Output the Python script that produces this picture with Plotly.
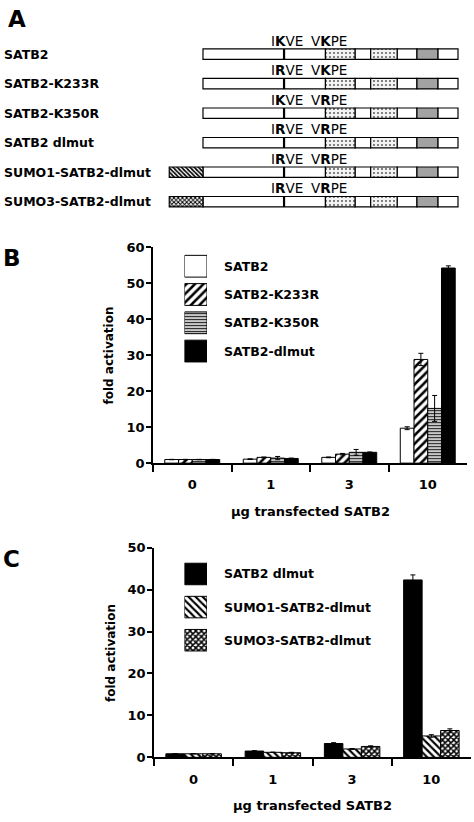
import plotly.graph_objects as go

# ---- panel A: constructs (positions in amino acids) ----
constructs = ['SATB2', 'SATB2-K233R', 'SATB2-K350R', 'SATB2 dlmut',
              'SUMO1-SATB2-dlmut', 'SUMO3-SATB2-dlmut']
motif1 = ['I<b>K</b>VE', 'I<b>R</b>VE', 'I<b>K</b>VE', 'I<b>R</b>VE', 'I<b>R</b>VE', 'I<b>R</b>VE']
motif2 = ['V<b>K</b>PE', 'V<b>K</b>PE', 'V<b>R</b>PE', 'V<b>R</b>PE', 'V<b>R</b>PE', 'V<b>R</b>PE']
sumo_tag = ['', '', '', '', 'SUMO1', 'SUMO3']
sumo_len = 97
satb2_len = 733
k_sites = [233, 350]
cut1 = [352, 437]
cut2 = [482, 558]
homeo = [615, 675]

# ---- panels B and C: fold activation ----
doses = ['0', '1', '3', '10']

b_names = ['SATB2', 'SATB2-K233R', 'SATB2-K350R', 'SATB2-dlmut']
b_satb2 = [1.0, 1.1, 1.6, 9.7]
b_k233r = [1.0, 1.6, 2.5, 28.8]
b_k350r = [1.0, 1.4, 3.0, 15.2]
b_dlmut = [1.0, 1.3, 3.0, 54.2]
b_satb2_err = [0.05, 0.1, 0.1, 0.4]
b_k233r_err = [0.05, 0.1, 0.2, 1.7]
b_k350r_err = [0.05, 0.45, 0.8, 3.6]
b_dlmut_err = [0.05, 0.1, 0.1, 0.6]

c_names = ['SATB2 dlmut', 'SUMO1-SATB2-dlmut', 'SUMO3-SATB2-dlmut']
c_dlmut = [0.85, 1.5, 3.3, 42.3]
c_sumo1 = [0.85, 1.2, 2.0, 5.1]
c_sumo3 = [0.85, 1.1, 2.6, 6.4]
c_dlmut_err = [0.05, 0.1, 0.2, 1.2]
c_sumo1_err = [0.05, 0.05, 0.1, 0.3]
c_sumo3_err = [0.05, 0.1, 0.15, 0.4]

FONT = 'DejaVu Sans'
W, H = 474, 822

# fill styles
def style(kind):
    line = dict(color='black', width=1)
    if kind == 'white':
        return dict(color='white', line=line)
    if kind == 'black':
        return dict(color='black', line=line)
    shapes = {'diag': ('/', 6, 0.42, 'black'), 'horiz': ('-', 3, 0.5, '#222222'),
              'back': ('\\', 5, 0.42, 'black'), 'check': ('x', 4, 0.62, 'black')}
    shp, size, sol, fg = shapes[kind]
    return dict(color='white', line=line,
                pattern=dict(shape=shp, size=size, solidity=sol, fgcolor=fg,
                             bgcolor='white', fillmode='replace'))

b_styles = ['white', 'diag', 'horiz', 'black']
c_styles = ['black', 'back', 'check']

fig = go.Figure()

# ---- panel A schematic as horizontal bars ----
h = 0.355
rows = list(range(len(constructs)))
bounds = [0, cut1[0], cut1[1], cut2[0], cut2[1], homeo[0], homeo[1], satb2_len]
edge = dict(color='black', width=1.2)


def seg(start, end, rr, marker):
    marker = dict(marker, line=edge)
    return go.Bar(orientation='h', y=rr, x=[end - start] * len(rr), base=[start] * len(rr),
                  width=h, offset=-h / 2, marker=marker, xaxis='x', yaxis='y',
                  hoverinfo='skip', showlegend=False)


for k in (0, 2, 4, 6):
    fig.add_trace(seg(bounds[k], bounds[k + 1], rows, dict(color='white')))
dots = dict(color='white', pattern=dict(shape='.', size=4, solidity=0.18, fgcolor='#555555',
                                        bgcolor='#f3f3f3', fillmode='replace'))
fig.add_trace(seg(cut1[0], cut1[1], rows, dots))
fig.add_trace(seg(cut2[0], cut2[1], rows, dots))
fig.add_trace(seg(homeo[0], homeo[1], rows, dict(color='#a2a2a2')))
for tag, shp in (('SUMO1', '\\'), ('SUMO3', 'x')):
    rr = [i for i in rows if sumo_tag[i] == tag]
    fig.add_trace(seg(-sumo_len, 0, rr, dict(color='white', pattern=dict(
        shape=shp, size=3, solidity=0.55, fgcolor='black', bgcolor='white', fillmode='replace'))))

shapes = []
annotations = []
for i in rows:
    shapes.append(dict(type='line', xref='x', yref='y', x0=k_sites[0], x1=k_sites[0],
                       y0=i - h / 2, y1=i + h / 2, line=dict(color='black', width=2.2)))
    annotations.append(dict(text='<b>' + constructs[i] + '</b>', xref='paper', yref='y',
                            x=2 / W, y=i, xanchor='left', yanchor='middle', showarrow=False,
                            font=dict(family=FONT, size=12.5, color='black')))
    annotations.append(dict(text=motif1[i], xref='x', yref='y', x=k_sites[0], y=i - 0.46,
                            xshift=3, showarrow=False, yanchor='middle',
                            font=dict(family=FONT, size=13.5, color='black')))
    annotations.append(dict(text=motif2[i], xref='x', yref='y', x=k_sites[1], y=i - 0.46,
                            xshift=4.5, showarrow=False, yanchor='middle',
                            font=dict(family=FONT, size=13.5, color='black')))

# ---- panel B bars ----
b_vals = [b_satb2, b_k233r, b_k350r, b_dlmut]
b_errs = [b_satb2_err, b_k233r_err, b_k350r_err, b_dlmut_err]
for name, vals, err, st in zip(b_names, b_vals, b_errs, b_styles):
    fig.add_trace(go.Bar(x=doses, y=vals, name=name, marker=style(st),
                         error_y=dict(type='data', array=err, color='black', thickness=1, width=2.5),
                         xaxis='x2', yaxis='y2', showlegend=False))

# ---- panel C bars ----
c_vals = [c_dlmut, c_sumo1, c_sumo3]
c_errs = [c_dlmut_err, c_sumo1_err, c_sumo3_err]
for name, vals, err, st in zip(c_names, c_vals, c_errs, c_styles):
    fig.add_trace(go.Bar(x=doses, y=vals, name=name, marker=style(st),
                         error_y=dict(type='data', array=err, color='black', thickness=1, width=2.5),
                         xaxis='x3', yaxis='y3', showlegend=False))

# ---- legends drawn as swatch bars ----
for names, styles, xa, ya, wd in ((b_names, b_styles, 'x4', 'y4', 0.77),
                                  (c_names, c_styles, 'x5', 'y5', 0.65)):
    for i, (name, st) in enumerate(zip(names, styles)):
        fig.add_trace(go.Bar(orientation='h', y=[i], x=[1], base=[0], width=wd, offset=-wd / 2,
                             marker=style(st), xaxis=xa, yaxis=ya, hoverinfo='skip',
                             showlegend=False))
        annotations.append(dict(text='<b>' + name + '</b>', xref='paper', yref=ya,
                                x=222 / W, y=i, xanchor='left', yanchor='middle',
                                showarrow=False, font=dict(family=FONT, size=12.5, color='black')))

# panel letters and axis titles
for letter, px, py in (('A', 6, 12), ('B', 1, 256), ('C', 1, 562)):
    annotations.append(dict(text='<b>' + letter + '</b>', xref='paper', yref='paper',
                            x=px / W, y=1 - py / H, xanchor='left', yanchor='middle',
                            showarrow=False, font=dict(family=FONT, size=23, color='black')))
for px, py in ((310, 514), (312, 813)):
    annotations.append(dict(text='<b>µg transfected SATB2</b>', xref='paper', yref='paper',
                            x=px / W, y=1 - py / H, xanchor='center', yanchor='middle',
                            showarrow=False, font=dict(family=FONT, size=13, color='black')))
for px, py in ((109, 355), (111, 658)):
    annotations.append(dict(text='<b>fold activation</b>', xref='paper', yref='paper',
                            x=px / W, y=1 - py / H, textangle=-90, xanchor='center',
                            yanchor='middle', showarrow=False,
                            font=dict(family=FONT, size=12, color='black')))

hidden = dict(visible=False, showgrid=False, zeroline=False, fixedrange=True)
tickfont = dict(family=FONT, size=13, color='black', weight='bold')
cat_axis = dict(type='category', categoryorder='array', categoryarray=doses, range=[-0.5, 3.5],
                showline=True, linecolor='black', linewidth=1.5, ticks='outside', ticklen=7,
                tickwidth=1.5, tickcolor='black', tickson='boundaries', tickfont=tickfont,
                showgrid=False, zeroline=False, ticklabelstandoff=9)
val_axis = dict(showline=True, linecolor='black', linewidth=1.5, ticks='outside', ticklen=5,
                tickwidth=1.5, tickcolor='black', tickfont=tickfont, showgrid=False,
                zeroline=False, dtick=10, tick0=0, ticklabelstandoff=-1)

fig.update_layout(
    width=W, height=H, margin=dict(l=0, r=0, t=0, b=0),
    paper_bgcolor='white', plot_bgcolor='rgba(0,0,0,0)',
    barmode='group', bargap=0.3, bargroupgap=0, showlegend=False,
    xaxis=dict(hidden, domain=[0, 1], range=[-583.5, 779], anchor='y'),
    yaxis=dict(hidden, domain=[1 - 228.4 / H, 1], range=[6, -1.6], anchor='x'),
    xaxis2=dict(cat_axis, domain=[153 / W, 467 / W], anchor='y2'),
    yaxis2=dict(val_axis, domain=[1 - 464.6 / H, 1 - 244.6 / H], range=[0, 60], anchor='x2'),
    xaxis3=dict(cat_axis, domain=[154 / W, 471 / W], anchor='y3'),
    yaxis3=dict(val_axis, domain=[1 - 764.3 / H, 1 - 550.7 / H], range=[0, 50], anchor='x3'),
    xaxis4=dict(hidden, domain=[184.5 / W, 207 / W], range=[0, 1], anchor='y4'),
    yaxis4=dict(hidden, domain=[1 - 364.85 / H, 1 - 249.65 / H], range=[3.5, -0.5], anchor='x4'),
    xaxis5=dict(hidden, domain=[184.5 / W, 207 / W], range=[0, 1], anchor='y5'),
    yaxis5=dict(hidden, domain=[1 - 661.85 / H, 1 - 560.65 / H], range=[2.5, -0.5], anchor='x5'),
    shapes=shapes, annotations=annotations,
)

# page body has a default margin; drop it so the figure sits at the window corner
fig.write_html('out.html', config={'displayModeBar': False},
               post_script="document.body.style.margin='0';")
